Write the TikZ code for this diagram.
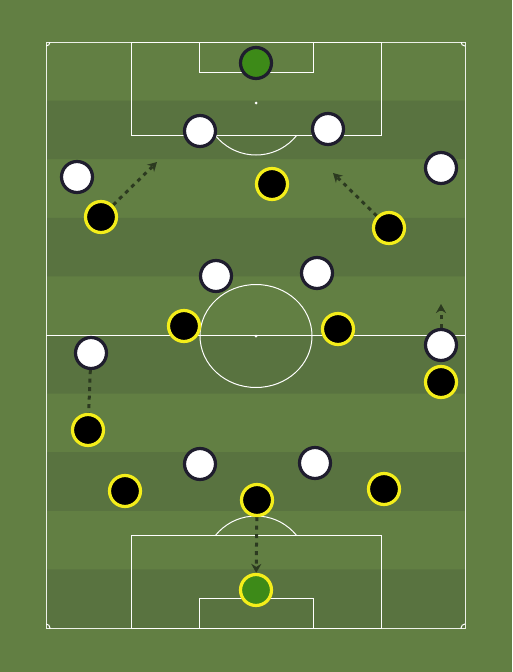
\documentclass[tikz,border=0pt]{standalone}
\usetikzlibrary{arrows.meta}
\definecolor{grassA}{HTML}{627F43}
\definecolor{grassB}{HTML}{597340}
\definecolor{rim}{HTML}{1F1D2E}
\definecolor{kit}{HTML}{F4EE1A}
\definecolor{keeper}{HTML}{3D8A18}
\definecolor{run}{HTML}{2C3A20}
\pgfdeclarelayer{back}
\pgfdeclarelayer{mid}
\pgfsetlayers{back,mid,main}
\begin{document}
\begin{tikzpicture}[x=1pt, y=-1pt, line join=round,
	white player/.style={circle, draw=rim, fill=white, line width=3.2pt, minimum size=31pt, inner sep=0pt},
	black player/.style={circle, draw=kit, fill=black, line width=3.2pt, minimum size=31pt, inner sep=0pt},
	pitch line/.style={draw=white, line width=1pt},
	move/.style={draw=run, line width=3pt, dash pattern=on 4pt off 4.5pt, -{Stealth[length=9pt, width=10pt]}}]
	\useasboundingbox (0,0) rectangle (512,672);
	\begin{pgfonlayer}{back}
		\fill[grassA] (0,0) rectangle (512,672);
		% stripes
		\fill[grassB] (46,100.6) rectangle (465,159.2) (46,217.8) rectangle (465,276.4) (46,335) rectangle (465,393.6) (46,452.2) rectangle (465,510.8) (46,569.4) rectangle (465,628);
		% lines
		\draw[pitch line, draw=white!88!grassA] (46,42) rectangle (465,628);
		\draw[pitch line] (46,335.5)--(465,335.5);
		\draw[pitch line] (131,42) rectangle (381,135) (199,42) rectangle (313,72.7);
		\draw[pitch line] (131,628) rectangle (381,535.7) (199,628) rectangle (313,598);
		\draw[pitch line] (256,336) ellipse (56 and 51.5);
		\fill[white] (256,336) circle (1.5) (256,103) circle (1.5) (256,568) circle (1.5);
		\begin{scope}
			\clip (131,135) rectangle (381,200);
			\draw[pitch line] (256,103) circle (52);
		\end{scope}
		\begin{scope}
			\clip (131,535.7) rectangle (381,470);
			\draw[pitch line] (256,568) circle (52);
		\end{scope}
		\begin{scope}
			\clip (46,42) rectangle (465,628);
			\draw[pitch line] (46,42) circle (4) (465,42) circle (4) (46,628) circle (4) (465,628) circle (4);
		\end{scope}
	\end{pgfonlayer}
	% top side
	\node[white player, fill=keeper] (wk) at (256,63) {};
	\node[white player] (w1) at (200,131) {};
	\node[white player] (w2) at (328,129) {};
	\node[white player] (w3) at (77,177) {};
	\node[white player] (w4) at (441,168) {};
	\node[white player] (w5) at (216,276) {};
	\node[white player] (w6) at (317,273) {};
	\node[white player] (w7) at (91,353) {};
	\node[white player] (w8) at (441,345) {};
	\node[white player] (w9) at (200,464) {};
	\node[white player] (w10) at (315,463) {};
	% bottom side
	\node[black player, fill=keeper] (bk) at (256,590) {};
	\node[black player] (b1) at (101,217) {};
	\node[black player] (b2) at (272,184) {};
	\node[black player] (b3) at (389,228) {};
	\node[black player] (b4) at (184,326) {};
	\node[black player] (b5) at (338,329) {};
	\node[black player] (b6) at (88,430) {};
	\node[black player] (b7) at (441,382) {};
	\node[black player] (b8) at (125,491) {};
	\node[black player] (b9) at (257,500) {};
	\node[black player] (b10) at (384,489) {};
	% runs
	\coordinate (r1) at (157,162);
	\coordinate (r2) at (333,173);
	\coordinate (r3) at (441,304);
	\begin{pgfonlayer}{mid}
		\draw[move] (b1)--(r1);
		\draw[move] (b3)--(r2);
		\draw[move] (w8)--(r3);
		\draw[move, -] (w7)--(b6);
		\draw[move] (b9)--(bk);
	\end{pgfonlayer}
\end{tikzpicture}
\end{document}
